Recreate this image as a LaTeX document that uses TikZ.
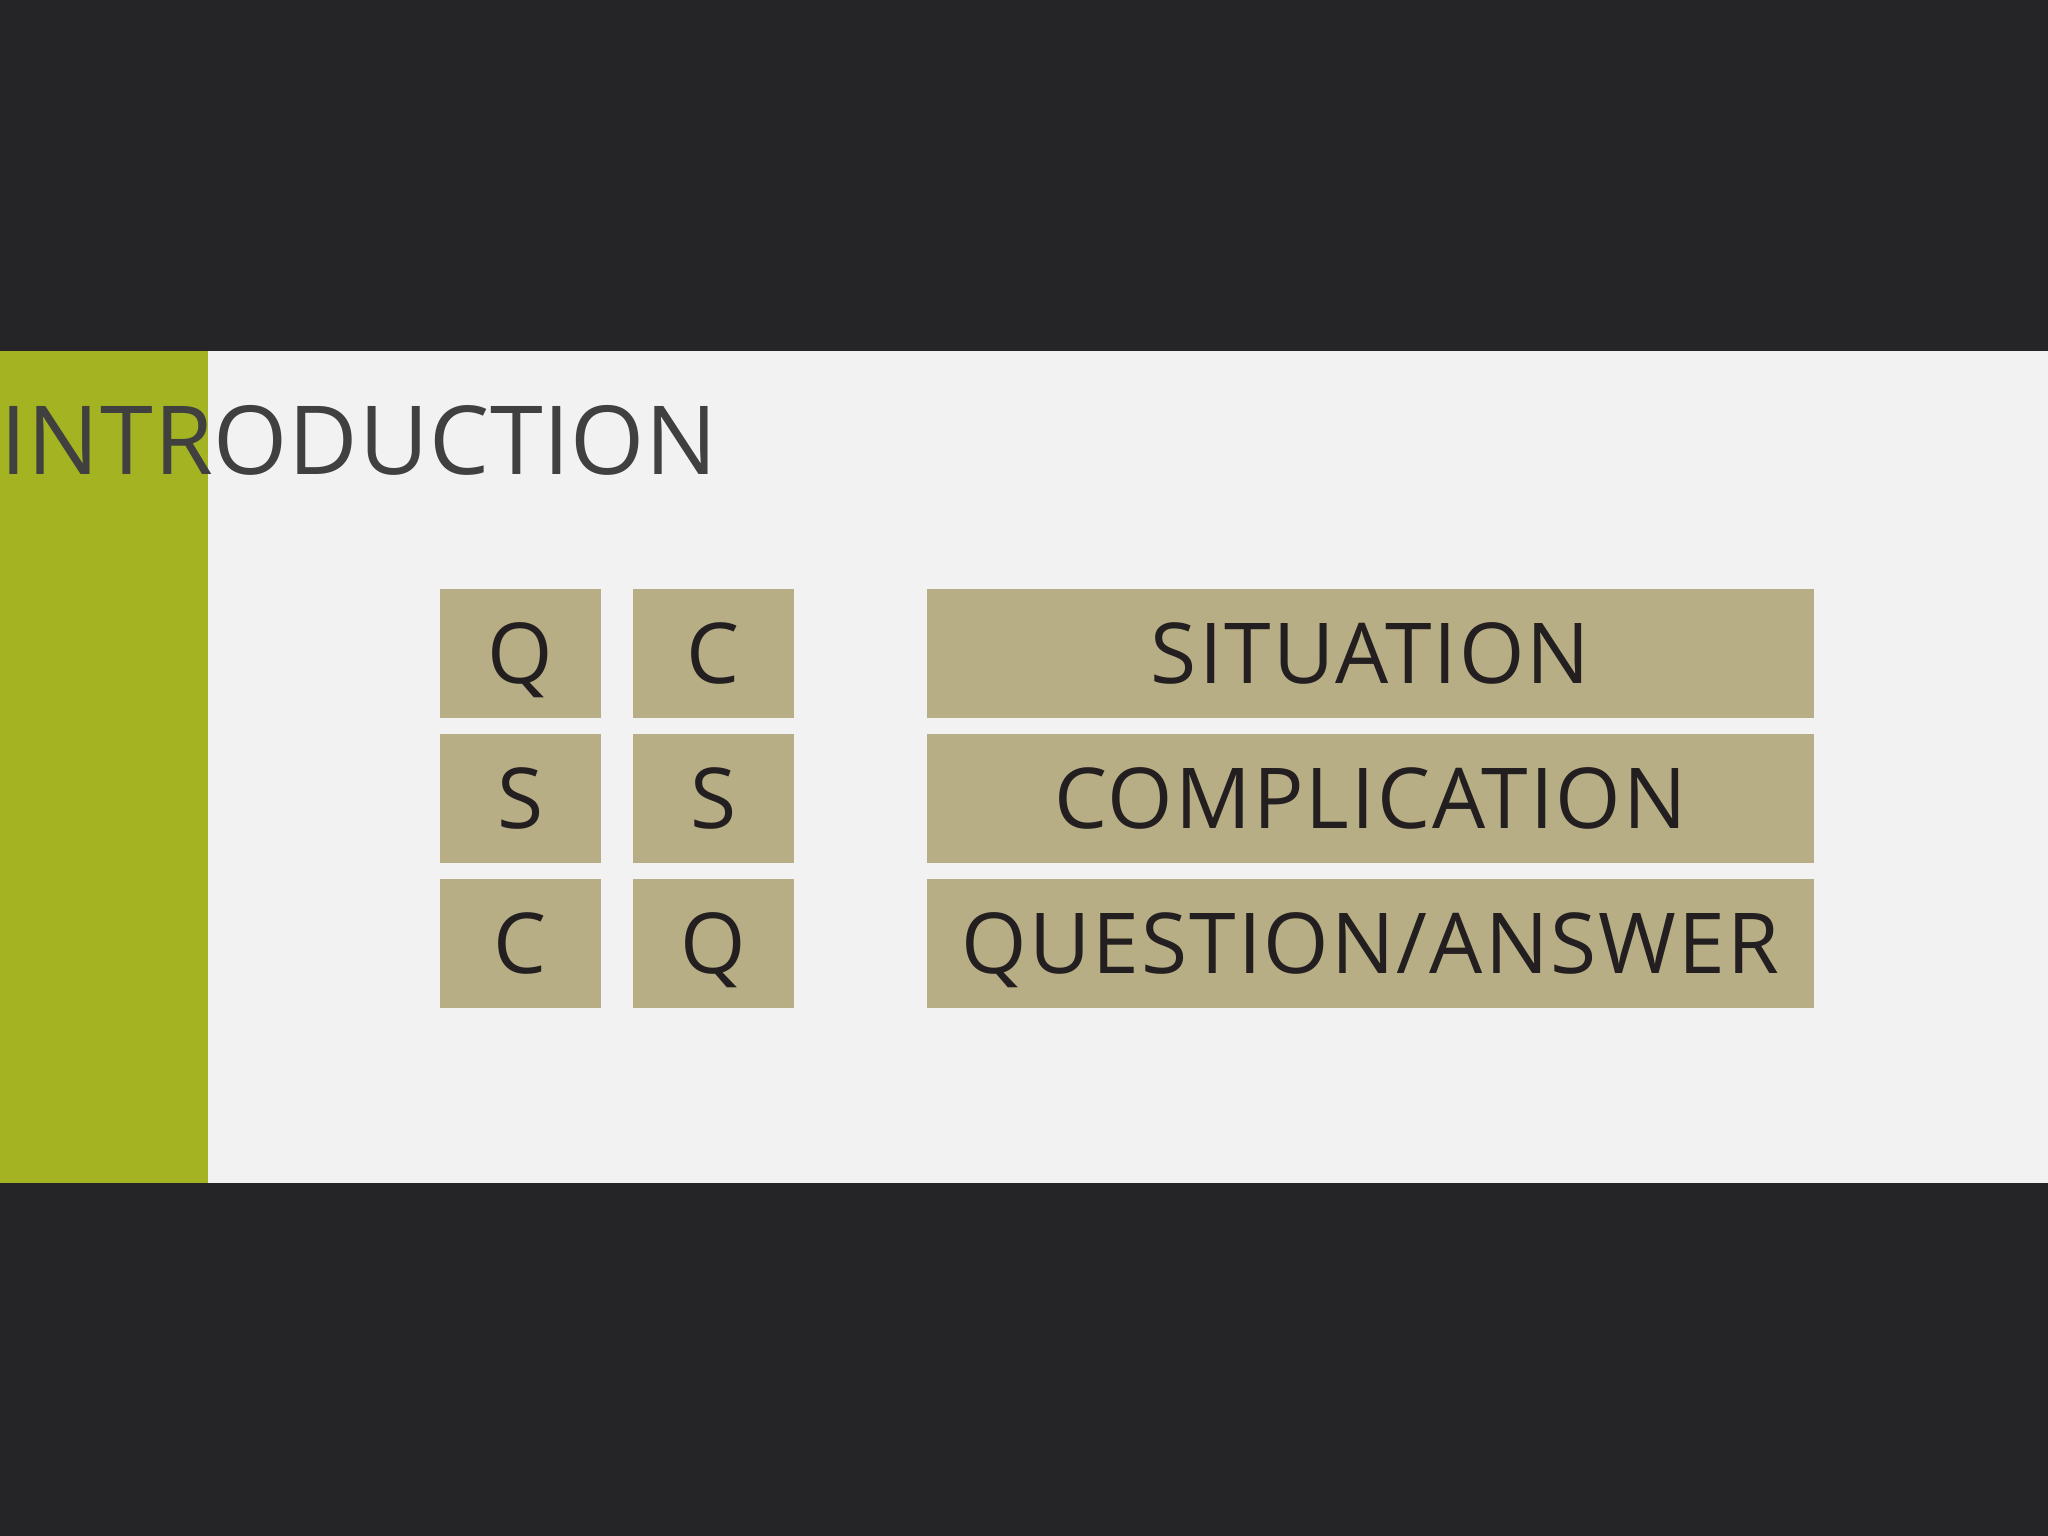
\documentclass[tikz,border=0pt]{standalone}
\usepackage{fontspec}
\setmainfont{Open Sans}[LetterSpace=2.5]
\newfontfamily\titlefamily{Open Sans}[LetterSpace=0.8]
\definecolor{darkband}{HTML}{252527}
\definecolor{lightbg}{HTML}{F2F2F2}
\definecolor{leafgreen}{HTML}{A4B321}
\definecolor{tanbox}{HTML}{B8AE85}
\definecolor{boxtext}{HTML}{231F20}
\definecolor{titletext}{HTML}{404040}
\begin{document}
\begin{tikzpicture}[x=0.01cm,y=-0.01cm,
  tile/.style={fill=tanbox, draw=none, inner sep=0pt, minimum height=1.29cm,
    text height=0.60cm, text depth=0pt, text=boxtext,
    font=\fontsize{23.9pt}{28pt}\selectfont},
  small/.style={tile, minimum width=1.61cm},
  wide/.style={tile, minimum width=8.87cm}]
\useasboundingbox (0,0) rectangle (2048,1536);
\clip (0,0) rectangle (2048,1536);
\fill[darkband] (0,0) rectangle (2048,1536);
\fill[lightbg] (0,351) rectangle (2048,1183);
\fill[leafgreen] (0,351) rectangle (208,1183);
\node[anchor=base west, inner sep=0pt, text=titletext,
  font=\titlefamily\fontsize{27.1pt}{32pt}\selectfont] (title) at (0,474) {INTRODUCTION};
\node[small] (q1) at (520.5,653.5) {Q};
\node[small] (s1) at (520.5,798.5) {S};
\node[small] (c1) at (520.5,943.5) {C};
\node[small] (c2) at (713.5,653.5) {C};
\node[small] (s2) at (713.5,798.5) {S};
\node[small] (q2) at (713.5,943.5) {Q};
\node[wide] (sit) at (1370.5,653.5) {SITUATION};
\node[wide] (comp) at (1370.5,798.5) {COMPLICATION};
\node[wide] (qa) at (1370.5,943.5) {QUESTION/ANSWER};
\end{tikzpicture}
\end{document}
